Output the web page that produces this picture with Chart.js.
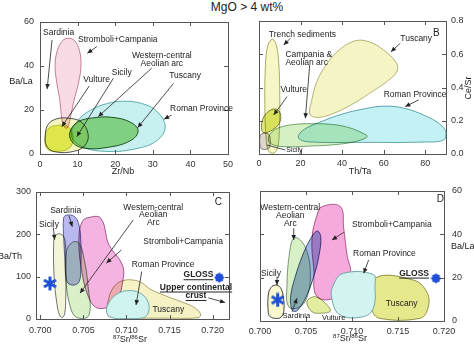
<!DOCTYPE html>
<html>
<head>
<meta charset="utf-8">
<script src="https://cdn.jsdelivr.net/npm/chart.js@4.4.1/dist/chart.umd.min.js"></script>
<style>
  html, body { margin: 0; padding: 0; background: #fff; }
  #wrap { position: relative; width: 474px; height: 351px; overflow: hidden; }
  #wrap canvas { position: absolute; left: 0; top: 0; }
  #title { position: absolute; left: 0; top: 0; width: 494px; text-align: center;
           font: 12px 'Liberation Sans', Arial, sans-serif; color: #222; line-height: 15px; }
</style>
</head>
<body>
<div id="wrap">
  <div id="title">MgO &gt; 4 wt%</div>
  <canvas id="chartA" width="474" height="351"></canvas>
  <canvas id="chartB" width="474" height="351"></canvas>
  <canvas id="chartC" width="474" height="351"></canvas>
  <canvas id="chartD" width="474" height="351"></canvas>
</div>
<script>
const FONT = "'Liberation Sans', Arial, sans-serif";

/* ---- A : Ba/La vs Zr/Nb ---- */
const aStromboli = [[6.6,12],[5.8,16],[5.3,24],[4.5,32],[4.0,40],[4.6,47],[6.0,51.5],[7.5,52.6],[9.2,51.5],[10.5,47],[10.9,40],[10.2,32],[9.0,24],[8.0,16],[7.3,12]];
const aRoman = [[8.3,8.6],[10,15],[13.5,20],[18,23],[22,24],[27,23],[31,19.5],[33.3,12.4],[31,6],[25,2.2],[17.2,1.2],[11,3.5]];
const aVulture = [[1.4,8.6],[2.2,13.5],[4.5,16],[8,16.2],[11,14.5],[12.8,9],[12,4],[9,1.2],[4,1.0],[1.8,3.5]];
const aSicily = [[1.3,7],[2.2,11.5],[4.5,13],[7.5,12.5],[8.8,8],[8,3],[5,1.2],[2,2.2]];
const aAeolian = [[7.9,9.6],[10,14.5],[14,16.4],[19,16.7],[24,14.5],[26.1,10.5],[24,6],[18,3],[12,2.6],[8.8,5]];

/* ---- B : Ce/Sr vs Th/Ta ---- */
const bRoman = [[19,0.11],[22,0.15],[30,0.195],[40,0.24],[50,0.27],[60,0.288],[70,0.275],[80,0.23],[87,0.18],[90,0.13],[89,0.085],[80,0.072],[50,0.07],[25,0.072],[20,0.085]];
const bCampania = [[4.5,0.09],[6,0.13],[10,0.16],[17,0.178],[25,0.182],[35,0.178],[43,0.16],[50,0.125],[52,0.105],[48,0.08],[38,0.058],[25,0.048],[12,0.044],[6,0.06]];
const bTuscany = [[24.5,0.24],[25.5,0.33],[28,0.44],[32,0.53],[38,0.62],[46,0.68],[53,0.675],[60,0.625],[66,0.55],[66.5,0.5],[62,0.44],[55,0.38],[45,0.3],[35,0.24],[28,0.22]];
const bTrench = [[6.2,0.69],[8.2,0.66],[9.5,0.55],[10,0.35],[9.8,0.15],[9,0.04],[7,0.005],[4.5,0.02],[3.3,0.12],[2.8,0.3],[3,0.5],[4,0.64]];
const bVulture = [[1.2,0.16],[1.8,0.21],[4,0.25],[7,0.27],[9.5,0.26],[10.5,0.22],[9.5,0.18],[7,0.15],[4,0.13],[2,0.13]];
const bSicily = [[0.5,0.05],[0.6,0.11],[2,0.125],[4.5,0.12],[5.3,0.1],[5.2,0.045],[4,0.03],[1.5,0.03]];

/* ---- C : Ba/Th vs 87Sr/86Sr ---- */
const cSicily = [[0.70155,180],[0.70170,196],[0.70210,201],[0.70260,198],[0.70290,180],[0.70298,120],[0.70295,50],[0.70285,15],[0.70260,4],[0.70225,8],[0.70190,40],[0.70160,100]];
const cSardinia = [[0.70270,238],[0.70300,245],[0.70390,243],[0.70445,225],[0.70470,185],[0.70470,120],[0.70450,88],[0.70380,80],[0.70310,88],[0.70290,130],[0.70272,190]];
const cAeolian = [[0.70371,181],[0.70449,179],[0.70507,143],[0.70553,80],[0.70565,9],[0.70429,3],[0.70353,25],[0.70295,96],[0.70302,159]];
const cStromboli = [[0.70545,239],[0.70701,238],[0.70797,175],[0.70952,128],[0.70956,88],[0.70875,41],[0.70681,25],[0.70565,49],[0.70469,128],[0.70449,198],[0.70487,230]];
const cTuscany = [[0.7078,10],[0.7079,45],[0.7085,75],[0.7095,90],[0.7108,92],[0.7118,85],[0.7128,70],[0.7145,55],[0.7162,42],[0.7178,28],[0.7186,12],[0.7183,3],[0.715,2],[0.711,2],[0.7085,3]];
const cRoman = [[0.7077,15],[0.7080,40],[0.7090,60],[0.7102,67],[0.7115,62],[0.7124,45],[0.7126,20],[0.7120,3],[0.7100,1],[0.7085,2]];
const cStar = [[0.70112,84]];
const cGloss = [[0.72077,97.6]];

/* ---- D : Ba/La vs 87Sr/86Sr ---- */
const dSicily = [[0.7009,4],[0.7009,12],[0.7012,15.5],[0.7017,16.6],[0.7022,15.5],[0.7025,12],[0.7026,5],[0.7023,1.8],[0.7017,1.2],[0.7011,2]];
const dAeolian = [[0.70366,38.2],[0.70438,37.4],[0.70511,32],[0.70547,22.8],[0.7052,12],[0.70438,6.6],[0.70312,6.6],[0.70293,16.6],[0.70323,32]];
const dVulture = [[0.70511,9],[0.70601,11.2],[0.7071,8.2],[0.70764,4.6],[0.70656,3.6],[0.70565,4.3]];
const dStromboli = [[0.70674,52.8],[0.70873,52.8],[0.7091,42.8],[0.70946,30.5],[0.70982,21.2],[0.70837,11.2],[0.7062,11.2],[0.70584,24.3],[0.70565,38.2],[0.7062,48.9]];
const dSardinia = [[0.7034,6],[0.70335,12],[0.7038,20],[0.7046,30],[0.7055,38],[0.7062,41.5],[0.7066,39],[0.7064,30],[0.7058,20],[0.7050,11],[0.7041,5],[0.70365,4.5]];
const dTuscany = [[0.7125,19.7],[0.71667,18.9],[0.71812,13.5],[0.7183,6.6],[0.71739,1.2],[0.71304,1.2],[0.71214,5.9]];
const dRoman = [[0.70906,22],[0.71232,21.5],[0.7125,16.6],[0.71232,5.9],[0.71123,2],[0.7087,2.8],[0.7078,10.5],[0.70797,16.6]];
const dStar = [[0.70192,9.7]];
const dGloss = [[0.71913,19.7]];

/* labels: [text, x, y, align, size, bold+underline] ; arrows: [x1, y1, x2, y2, head] */
const aLabels = [['Sardinia',0.8,55,'left'],['Stromboli+Campania',10.1,51.8,'left'],['Vulture',11.5,33.6,'left'],['Sicily',19.1,37,'left'],
  ['Western-central',32.4,44.5,'center'],['Aeolian arc',32.4,41.2,'center'],['Tuscany',38.6,35.5,'center'],['Roman Province',34.6,20.8,'left']];
const aArrows = [[3.2,51.8,1.9,29.5],[15.1,48.8,12.6,45.8],[13.1,30.9,5.8,12.4],[19.5,34.4,9.8,7.9],[29.7,39,15.5,17],[35.5,32.1,26,12],[35,17.7,33,15.8]];

const bLabels = [['Trench sediments',4.7,0.718,'left'],['B',85.4,0.726,'center',10],['Tuscany',68,0.696,'left'],['Campania &',12.7,0.6,'left'],
  ['Aeolian arc',12.7,0.55,'left'],['Vulture',10.3,0.385,'left'],['Roman Province',60,0.359,'left'],['Sicily',13.1,0.024,'left',7]];
const bArrows = [[15.1,0.696,11.9,0.656],[68,0.666,63.5,0.615],[24.4,0.535,22.3,0.215],[13.5,0.345,7.1,0.235],[76.8,0.325,70.4,0.285],[12.7,0.024,3.8,0.054,false]];

const cLabels = [['Sardinia',0.70295,257,'center'],['Sicily',0.70101,224,'center'],['Western-central',0.71311,264,'center'],['Aeolian',0.71311,246,'center'],
  ['Arc',0.71311,228,'center'],['Stromboli+Campania',0.71195,183,'left'],['Roman Province',0.71061,128,'left'],['Tuscany',0.71486,21,'center'],
  ['C',0.72066,276,'center',10],['GLOSS',0.72008,104,'right',8.5,true],['Upper continental',0.71807,75,'center',8.5,true],['crust',0.71807,55,'center',8.5,true]];
const cArrows = [[0.70333,244,0.70371,218],[0.70151,216,0.70167,187],[0.71079,234,0.70461,61],[0.70941,163,0.70767,132],[0.71177,112,0.71111,33],[0.71950,50,0.72144,39]];

const dLabels = [['D',0.7196,56.3,'center',10],['Western-central',0.70329,52.5,'center'],['Aeolian',0.70329,48.6,'center'],['Arc',0.70329,45.1,'center'],
  ['Stromboli+Campania',0.71,44.3,'left'],['Roman Province',0.71011,31.2,'left'],['Sicily',0.7012,22,'center'],['Sardinia',0.70395,2.3,'center',7.5],
  ['Vulture',0.70801,1.5,'center',7.5],['Tuscany',0.7154,7.8,'center'],['GLOSS',0.71837,22,'right',8.5,true]];
const dArrows = [[0.70366,42.8,0.70366,37.4],[0.7091,40.9,0.70783,37.4],[0.71181,28.2,0.71127,22],[0.70185,20.5,0.70185,16.6],[0.70348,4.3,0.70402,10.5]];

// marker glyphs
function asteriskImage(size, color) {
  const c = document.createElement('canvas');
  c.width = c.height = size;
  const g = c.getContext('2d');
  g.strokeStyle = color; g.lineWidth = size * 0.2;
  g.translate(size / 2, size / 2);
  for (let k = 0; k < 3; k++) {
    g.beginPath(); g.moveTo(0, -size * 0.46); g.lineTo(0, size * 0.46); g.stroke();
    g.rotate(Math.PI / 3);
  }
  return c;
}
function glossImage(size, color) {
  const c = document.createElement('canvas');
  c.width = c.height = size;
  const g = c.getContext('2d');
  g.fillStyle = color;
  g.translate(size / 2, size / 2);
  const s = size * 0.66;
  g.fillRect(-s / 2, -s / 2, s, s);
  g.rotate(Math.PI / 4);
  g.fillRect(-s / 2, -s / 2, s, s);
  return c;
}

function blob(pts, fill, border, blend) {
  return {
    data: pts.map(p => ({x: p[0], y: p[1]})),
    backgroundColor: fill, borderColor: border, borderWidth: 1,
    fill: 'shape', tension: 0.4, pointRadius: 0, closed: true, blend: blend || 'multiply'
  };
}
function marker(pts, img) {
  return { data: pts.map(p => ({x: p[0], y: p[1]})), showLine: false, pointStyle: img,
           pointRadius: 6, blend: 'source-over' };
}

// close the outlines into smooth loops
const loopPlugin = {
  id: 'loop',
  afterDatasetsUpdate(chart) {
    chart.getSortedVisibleDatasetMetas().forEach(meta => {
      const ds = chart.data.datasets[meta.index];
      if (!ds.closed || !meta.dataset) return;
      const line = meta.dataset;
      line._loop = true; line._fullLoop = true;
      line._pointsUpdated = false;
      line._segments = undefined; line._path = undefined;
    });
  }
};

// overlapping fields darken like the print
const blendPlugin = {
  id: 'blend',
  beforeDatasetsDraw(chart) {
    const metas = chart.getSortedVisibleDatasetMetas();
    chart.ctx.save();
    const m = metas[metas.length - 1];
    chart.ctx.globalCompositeOperation = chart.data.datasets[m.index].blend || 'multiply';
  },
  afterDatasetDraw(chart, args) {
    const metas = chart.getSortedVisibleDatasetMetas();
    const pos = metas.indexOf(args.meta);
    const m = metas[pos - 1];
    if (m) chart.ctx.globalCompositeOperation = chart.data.datasets[m.index].blend || 'multiply';
  },
  afterDatasetsDraw(chart) { chart.ctx.restore(); }
};

function drawText(ctx, s, px, py, align, size, strong) {
  ctx.font = (strong ? 'bold ' : '') + size + 'px ' + FONT;
  ctx.textAlign = align; ctx.textBaseline = 'middle'; ctx.fillStyle = '#222';
  ctx.fillText(s, px, py);
  if (strong) {
    const w = ctx.measureText(s).width;
    const x0 = align === 'left' ? px : align === 'right' ? px - w : px - w / 2;
    ctx.fillRect(x0, py + size * 0.5, w, 1);
  }
}
function drawArrow(ctx, x1, y1, x2, y2, head) {
  ctx.strokeStyle = '#222'; ctx.fillStyle = '#222'; ctx.lineWidth = 0.8;
  ctx.beginPath(); ctx.moveTo(x1, y1); ctx.lineTo(x2, y2); ctx.stroke();
  if (head === false) return;
  const ang = Math.atan2(y2 - y1, x2 - x1);
  ctx.save(); ctx.translate(x2, y2); ctx.rotate(ang);
  ctx.beginPath(); ctx.moveTo(0, 0); ctx.lineTo(-5, -2.3); ctx.lineTo(-5, 2.3); ctx.closePath(); ctx.fill();
  ctx.restore();
}
function drawSrTitle(ctx, cx, cy) {
  const parts = [['87', 6, -3], ['Sr/', 9, 0], ['86', 6, -3], ['Sr', 9, 0]];
  let w = 0;
  parts.forEach(p => { ctx.font = p[1] + 'px ' + FONT; w += ctx.measureText(p[0]).width; });
  let x = cx - w / 2;
  ctx.textAlign = 'left'; ctx.textBaseline = 'middle'; ctx.fillStyle = '#222';
  parts.forEach(p => { ctx.font = p[1] + 'px ' + FONT; ctx.fillText(p[0], x, cy + p[2]); x += ctx.measureText(p[0]).width; });
}

// frame, inward ticks, notes and axis titles
function notesPlugin(labels, arrows, titles) {
  return {
    id: 'notes',
    afterDraw(chart) {
      const {ctx, chartArea: a, scales: {x, y}} = chart;
      ctx.save();
      ctx.strokeStyle = '#555'; ctx.lineWidth = 1;
      ctx.strokeRect(a.left + 0.5, a.top + 0.5, a.right - a.left, a.bottom - a.top);
      ctx.beginPath();
      x.ticks.forEach(t => {
        const px = Math.round(x.getPixelForValue(t.value)) + 0.5;
        ctx.moveTo(px, a.bottom); ctx.lineTo(px, a.bottom - 4);
        ctx.moveTo(px, a.top); ctx.lineTo(px, a.top + 4);
      });
      y.ticks.forEach(t => {
        const py = Math.round(y.getPixelForValue(t.value)) + 0.5;
        ctx.moveTo(a.left, py); ctx.lineTo(a.left + 4, py);
        ctx.moveTo(a.right, py); ctx.lineTo(a.right - 4, py);
      });
      ctx.stroke();
      arrows.forEach(r => drawArrow(ctx, x.getPixelForValue(r[0]), y.getPixelForValue(r[1]),
                                         x.getPixelForValue(r[2]), y.getPixelForValue(r[3]), r[4]));
      labels.forEach(l => drawText(ctx, l[0], x.getPixelForValue(l[1]), y.getPixelForValue(l[2]), l[3], l[4] || 8.5, l[5]));
      titles.forEach(t => {
        if (t[0] === 'Sr') { drawSrTitle(ctx, t[1], t[2]); return; }
        ctx.save(); ctx.translate(t[1], t[2]);
        if (t[4]) ctx.rotate(-Math.PI / 2);
        drawText(ctx, t[0], 0, 0, t[3], 9);
        ctx.restore();
      });
      ctx.restore();
    }
  };
}

const AXW = 28, AXH = 16;   // fixed axis box sizes so the plot areas line up with the print

function makePanel(id, area, xs, ys, datasets, labels, arrows, titles) {
  const n = datasets.length;
  datasets.forEach((d, i) => { d.order = n - i; });
  const right = ys.position === 'right';
  const pad = {
    left: right ? area[0] : area[0] - AXW,
    top: area[1],
    right: right ? 474 - area[2] - AXW : 474 - area[2],
    bottom: 351 - area[3] - AXH
  };
  const tickFont = {family: FONT, size: 9};
  return new Chart(document.getElementById(id), {
    type: 'line',
    data: {datasets},
    options: {
      responsive: false, animation: false, devicePixelRatio: 1,
      layout: {padding: pad},
      plugins: {legend: {display: false}, tooltip: {enabled: false}},
      scales: {
        x: Object.assign({type: 'linear', grid: {display: false, drawTicks: false}, border: {display: false},
             afterFit: s => { s.height = AXH; }}, xs, {ticks: Object.assign({font: tickFont, color: '#333', maxRotation: 0, includeBounds: false}, xs.ticks)}),
        y: Object.assign({type: 'linear', grid: {display: false, drawTicks: false}, border: {display: false},
             afterFit: s => { s.width = AXW; }}, ys, {ticks: Object.assign({font: tickFont, color: '#333', includeBounds: false}, ys.ticks)})
      }
    },
    plugins: [loopPlugin, blendPlugin, notesPlugin(labels, arrows, titles)]
  });
}

const srFmt = v => v.toFixed(3);
const star = asteriskImage(15, '#1f4fd6');
const gloss = glossImage(11, '#1f4fd6');

makePanel('chartA', [40, 22, 228, 154],
  {min: 0, max: 50, ticks: {stepSize: 10, padding: 5}},
  {min: 0, max: 60, ticks: {stepSize: 20, padding: 6}},
  [blob(aStromboli, '#f9dbe6', '#c98aa0'), blob(aRoman, '#c8f0f0', '#68b4b4'), blob(aVulture, '#f5f5c2', '#555555'),
   blob(aSicily, '#e8f064', '#c8d050'), blob(aAeolian, '#a3dd8c', '#2f5f2f')],
  aLabels, aArrows, [['Ba/La', 21, 82, 'center'], ['Zr/Nb', 123, 172, 'center']]);

makePanel('chartB', [259, 21, 446, 154],
  {min: 0, max: 90, ticks: {stepSize: 20, padding: 4}},
  {min: 0, max: 0.8, position: 'right', ticks: {stepSize: 0.2, padding: 5, callback: v => v.toFixed(1)}},
  [blob(bRoman, '#c4f2f4', '#6aaab0'), blob(bCampania, '#d6f0c4', '#7aa87a'), blob(bTuscany, '#f4f4c4', '#b8b888'),
   blob(bTrench, '#f6f6c6', '#b0b070'), blob(bVulture, '#e0ea74', '#8a8a50'), blob(bSicily, '#ddd6cc', '#888888')],
  bLabels, bArrows, [['Th/Ta', 360, 172, 'center'], ['Ce/Sr', 469, 88, 'center', true]]);

makePanel('chartC', [36, 192, 229, 319],
  {min: 0.6995, max: 0.7219, ticks: {stepSize: 0.005, padding: 6, callback: srFmt}},
  {min: 0, max: 300, ticks: {stepSize: 100, padding: 5}},
  [blob(cSicily, '#f3f5d8', '#777777'), blob(cSardinia, '#b9b9f0', '#7070a8'), blob(cAeolian, '#d9f0c9', '#7a907a'),
   blob(cStromboli, '#f5b3e1', '#a06a90'), blob(cTuscany, '#f5f2c6', '#b0a878'), blob(cRoman, '#cff3ee', '#78aaa8', 'source-over'),
   marker(cStar, star), marker(cGloss, gloss)],
  cLabels, cArrows, [['Ba/Th', 22, 257, 'right'], ['Sr', 130, 340]]);

makePanel('chartD', [260, 191, 444, 321],
  {min: 0.700, max: 0.720, ticks: {stepSize: 0.005, padding: 5, callback: srFmt}},
  {min: 0, max: 60, position: 'right', ticks: {stepSize: 20, padding: 8}},
  [blob(dSicily, '#f8f8cf', '#444444'), blob(dAeolian, '#d8f0c6', '#8a9a8a'), blob(dVulture, '#e2eda0', '#9aa070'),
   blob(dStromboli, '#f5a9dc', '#b07090'), blob(dSardinia, '#9fb6e2', '#506090'), blob(dTuscany, '#e6e88c', '#9a9a60'),
   blob(dRoman, '#d2f4f0', '#70a8a8', 'source-over'), marker(dStar, star), marker(dGloss, gloss)],
  dLabels, dArrows, [['Ba/La', 451, 247, 'left'], ['Sr', 350, 339]]);
</script>
</body>
</html>
